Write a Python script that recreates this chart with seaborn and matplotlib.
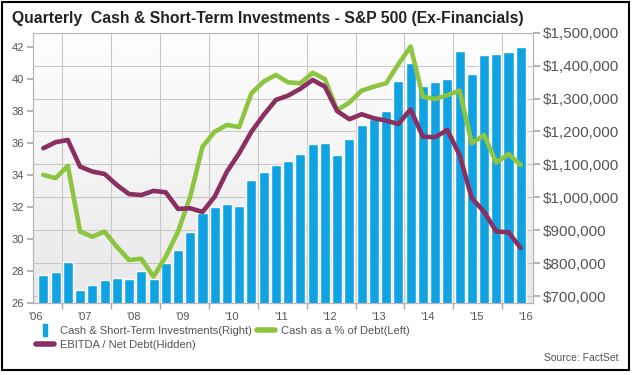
import numpy as np
import pandas as pd
import matplotlib
matplotlib.use('Agg')
import matplotlib.pyplot as plt
import seaborn as sns
from matplotlib.lines import Line2D
from matplotlib.path import Path
from matplotlib.patches import Rectangle
from matplotlib.colors import LinearSegmentedColormap
from matplotlib.ticker import FuncFormatter

# quarterly data, 2006Q1 .. 2015Q4
quarters = [f"{y}Q{q}" for y in range(2006, 2016) for q in range(1, 5)]

# Cash & Short-Term Investments ($, right axis)
cash_st = [764000, 773000, 804000, 719000, 734000, 749000, 755000, 753000,
           777000, 753000, 801000, 840000, 896000, 952000, 971000, 981000,
           975000, 1053000, 1077000, 1098000, 1110000, 1132000, 1162000, 1165000,
           1129000, 1177000, 1220000, 1239000, 1262000, 1353000, 1409000, 1339000,
           1350000, 1359000, 1444000, 1376000, 1433000, 1435000, 1441000, 1457000]

# Cash as a % of Debt (left axis)
cash_pct_debt = [34.0, 33.8, 34.56, 30.45, 30.13, 30.45, 29.5, 28.67,
                 28.75, 27.63, 28.88, 30.45, 32.64, 35.77, 36.71, 37.13,
                 37.0, 39.12, 39.85, 40.26, 39.8, 39.74, 40.4, 40.0,
                 38.07, 38.53, 39.28, 39.53, 39.74, 40.93, 42.04, 38.9,
                 38.76, 39.0, 39.28, 35.98, 36.5, 34.77, 35.31, 34.62]

# EBITDA / Net Debt (hidden axis, drawn against the left scale)
ebitda_net_debt = [35.67, 36.05, 36.19, 34.52, 34.21, 34.06, 33.37, 32.8,
                   32.74, 33.0, 32.91, 31.87, 31.91, 31.68, 32.64, 34.21,
                   35.36, 36.71, 37.76, 38.7, 38.97, 39.4, 39.95, 39.53,
                   38.0, 37.49, 37.8, 37.55, 37.4, 37.19, 38.11, 36.4,
                   36.36, 36.82, 35.25, 32.54, 31.7, 30.45, 30.41, 29.41]

year_labels = ["'06", "'07", "'08", "'09", "'10", "'11", "'12", "'13", "'14", "'15", "'16"]

df = pd.DataFrame({
    'quarter': quarters,
    'pos': np.arange(len(quarters)),
    'cash': cash_st,
    'pct': cash_pct_debt,
    'ebitda': ebitda_net_debt,
})

BLUE = '#10a3e3'
GREEN = '#8dc540'
PURPLE = '#8a2f61'
GRID = '#c8c8c8'
TXT = '#555555'

sns.set_theme(style='white')
plt.rcParams['font.family'] = ['Liberation Sans', 'DejaVu Sans']

fig = plt.figure(figsize=(6.33, 3.75), dpi=100)
W, H = 633, 375
axr = fig.add_axes([32.7 / W, 1 - 302.6 / H, (533 - 32.7) / W, (302.6 - 32.7) / H])
axl = axr.twinx()
axl.yaxis.tick_left()
axr.yaxis.tick_right()

# gradient background
grad = np.linspace(0, 1, 256).reshape(-1, 1)
cmap = LinearSegmentedColormap.from_list('bg', ['#ffffff', '#e8e8e8'])
axr.imshow(grad, extent=[0, 1, 0, 1], transform=axr.transAxes, aspect='auto',
           cmap=cmap, origin='upper', zorder=0)

# bars on the right scale
sns.barplot(data=df, x='quarter', y='cash', ax=axr, color=BLUE, saturation=1,
            width=0.82, zorder=2)

# lines on the left scale
sns.lineplot(data=df, x='pos', y='pct', ax=axl, color=GREEN, lw=3.3, sort=False)
sns.lineplot(data=df, x='pos', y='ebitda', ax=axl, color=PURPLE, lw=3.3, sort=False)

# axes limits
axr.set_xlim(-0.87, 40.0)
axr.set_ylim(680000, 1500000)
axl.set_ylim(26, 42.91)

# x ticks: labels at year marks, grid at year boundaries
axr.set_xticks(np.arange(len(year_labels)) * 4 - 0.6)
axr.set_xticklabels(year_labels)
axr.set_xticks(np.arange(10) * 4 + 1.5, minor=True)
axr.tick_params(axis='x', which='major', length=0, labelsize=8, labelcolor=TXT, pad=7)
axr.tick_params(axis='x', which='minor', length=4, color='#aaaaaa', bottom=True)
axr.xaxis.grid(True, which='minor', color=GRID, lw=0.8)
axr.xaxis.grid(False, which='major')

# right axis
axr.set_yticks(np.arange(700000, 1500001, 100000))
axr.yaxis.set_major_formatter(FuncFormatter(lambda v, p: f"${v:,.0f}"))
axr.tick_params(axis='y', which='major', length=5, color='#aaaaaa', right=True,
                labelsize=11, labelcolor=TXT, pad=2)
axr.yaxis.grid(True, color=GRID, lw=0.8)

# left axis
axl.set_yticks(np.arange(26, 43, 2))
axl.tick_params(axis='y', length=4, color='#aaaaaa', left=True,
                labelsize=8, labelcolor=TXT, pad=2)

for a in (axr, axl):
    a.set_xlabel('')
    a.set_ylabel('')
    for s in a.spines.values():
        s.set_color('#b5b5b5')
        s.set_linewidth(0.8)
axl.spines['top'].set_visible(False)

# title
fig.text(12 / W, 1 - 18.5 / H, 'Quarterly  Cash & Short-Term Investments - S&P 500 (Ex-Financials)',
         fontsize=11.3, weight='bold', color='#222222', va='center', ha='left')

# legend
bar_marker = Path([(-0.3, -1), (0.3, -1), (0.3, 1), (-0.3, 1), (-0.3, -1)])
handles = [
    Line2D([], [], ls='none', marker=bar_marker, markersize=9, color=BLUE),
    Line2D([], [], color=PURPLE, lw=4),
    Line2D([], [], color=GREEN, lw=4),
]
labels = ['Cash & Short-Term Investments(Right)', 'EBITDA / Net Debt(Hidden)',
          'Cash as a % of Debt(Left)']
fig.legend(handles, labels, ncol=2, loc='upper left', bbox_to_anchor=(36 / W, 1 - 326 / H),
           frameon=False, fontsize=8, handlelength=1.6, handletextpad=0.6,
           columnspacing=0.4, labelspacing=0.35, borderpad=0, borderaxespad=0,
           labelcolor=TXT)

fig.text(618 / W, 1 - 358 / H, 'Source: FactSet', fontsize=7.5, color=TXT,
         ha='right', va='center')

# outer frame
fig.add_artist(Rectangle((2 / W, 5 / H), 627 / W, 368.3 / H, transform=fig.transFigure,
                         fill=False, ec='black', lw=1.5))

fig.savefig('out.png', dpi=100)
